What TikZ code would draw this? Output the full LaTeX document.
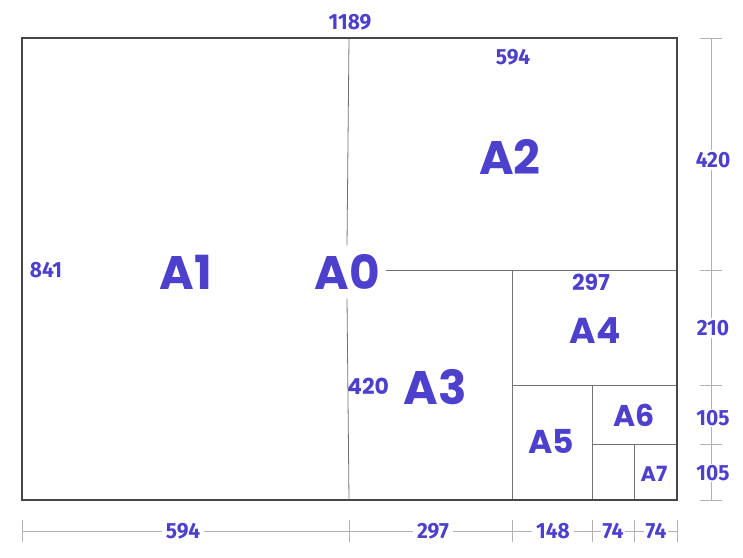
\documentclass[tikz,border=0pt]{standalone}
\usepackage{fontspec}
\usepackage{graphicx}
\newfontfamily\pop{Poppins}
\newfontfamily\ptb{Fira Sans}[UprightFont={* Bold},BoldFont={* Bold}]
\definecolor{ink}{RGB}{76,64,204}
\tikzset{
  outer/.style={draw=black!72,line width=1.7pt},
  div/.style={draw=black!55,line width=0.8pt},
  dimline/.style={draw=black!30,line width=0.9pt},
  big/.style={text=ink,inner sep=2pt,font=\pop\bfseries\fontsize{#1}{#1}\selectfont},
  num/.style={text=ink,inner sep=2pt,font=\ptb\fontsize{#1}{#1}\selectfont},
  pnum/.style={text=ink,inner sep=2pt,font=\pop\bfseries\fontsize{#1}{#1}\selectfont},
  dimlab/.style={num=#1,fill=white,inner xsep=4pt,inner ysep=2pt},
}
\newcommand{\cn}[1]{\scalebox{0.95}[1]{#1}}
\begin{document}
\begin{tikzpicture}[x=1pt,y=-1pt]
\useasboundingbox (0,0) rectangle (743,557);
% corners
\coordinate (TL) at (22,38);
\coordinate (BR) at (677,500);
\coordinate (mt) at (349,38);
\coordinate (mb) at (349,500);
\coordinate (hr) at (677,270);
\coordinate (h3) at (512,270);
\coordinate (v3b) at (512,500);
\coordinate (h4l) at (512,385);
\coordinate (h4r) at (677,385);
\coordinate (v5t) at (592,385);
\coordinate (v5b) at (592,500);
\coordinate (h6l) at (592,444);
\coordinate (h6r) at (677,444);
\coordinate (v7t) at (634,444);
\coordinate (v7b) at (634,500);
% big labels
\node[big=47,inner ysep=9pt,inner xsep=6pt] (a0) at (347,272) {A0};
\node[big=47] (a1) at (186,272) {A1};
\node[big=47] (a2) at (510,157) {A2};
\node[big=47] (a3) at (435,387) {A3};
\node[big=36] (a4) at (595,331) {A4};
\node[big=33] (a5) at (551,441) {A5};
\node[big=30] (a6) at (634,415) {A6};
\node[big=21] (a7) at (654,474) {A7};
% inner numbers
\node[num=22] (n1189) at (350,22) {\cn{1189}};
\node[num=22] (n594t) at (513,57) {\cn{594}};
\node[num=22] (n841) at (46,270) {\cn{841}};
\node[pnum=22] (n297) at (591,282) {297};
\node[pnum=22] (n420) at (368,386) {420};
% outline and divisions
\draw[div] (mt) -- (a0.north);
\draw[div] (a0.south) -- (mb);
\draw[div] (a0.east |- hr) -- (hr);
\draw[div] (h3) -- (v3b);
\draw[div] (h4l) -- (h4r);
\draw[div] (v5t) -- (v5b);
\draw[div] (h6l) -- (h6r);
\draw[div] (v7t) -- (v7b);
\draw[outer] (TL) rectangle (BR);
% right dimension
\coordinate (r0) at (711,38);
\coordinate (r1) at (711,270);
\coordinate (r2) at (711,385);
\coordinate (r3) at (711,444);
\coordinate (r4) at (711,500);
\draw[dimline] (r0) -- (r4);
\foreach \p in {r0,r1,r2,r3,r4}
  \draw[dimline] ([xshift=-11pt]\p) -- ([xshift=11pt]\p);
\node[dimlab=22] (d420) at (713,160) {\cn{420}};
\node[dimlab=22] (d210) at (713,328) {\cn{210}};
\node[dimlab=22,inner ysep=1pt] (d105a) at (713,418) {\cn{105}};
\node[dimlab=22,inner ysep=1pt] (d105b) at (713,473) {\cn{105}};
% bottom dimension
\coordinate (b0) at (22,531);
\coordinate (b1) at (349,531);
\coordinate (b2) at (512,531);
\coordinate (b3) at (592,531);
\coordinate (b4) at (634,531);
\coordinate (b5) at (677,531);
\draw[dimline] (b0) -- (b5);
\foreach \p in {b0,b1,b2,b3,b4,b5}
  \draw[dimline] ([yshift=-11pt]\p) -- ([yshift=11pt]\p);
\node[dimlab=22] (e594) at (183,531) {\cn{594}};
\node[dimlab=22] (e297) at (433,531) {\cn{297}};
\node[dimlab=22] (e148) at (553,531) {\cn{148}};
\node[dimlab=22,inner xsep=2pt] (e74a) at (613,531) {\cn{74}};
\node[dimlab=22,inner xsep=2pt] (e74b) at (656,531) {\cn{74}};
\end{tikzpicture}
\end{document}
